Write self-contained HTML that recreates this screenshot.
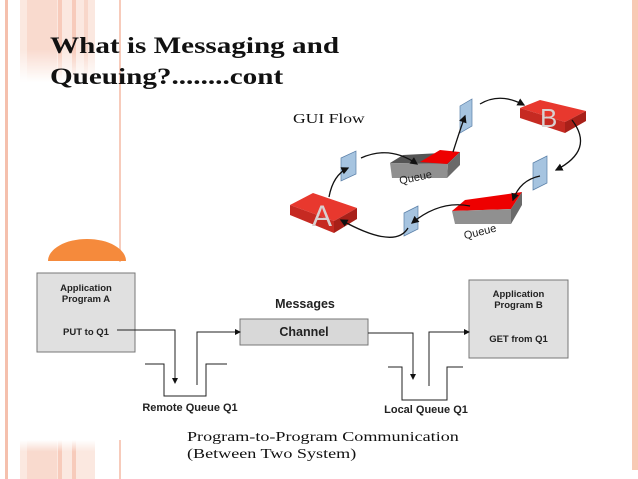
<!DOCTYPE html>
<html><head><meta charset="utf-8"><style>
body{margin:0;width:638px;height:479px;overflow:hidden;background:#fff;position:relative;font-family:"Liberation Sans",sans-serif}
.a{position:absolute}
.t{position:absolute;font-family:"Liberation Serif",serif;font-weight:bold;font-size:23.5px;left:50px;line-height:31px;top:31px;color:#111;transform:scaleX(1.24);transform-origin:0 0;white-space:nowrap}
.s{position:absolute;font-family:"Liberation Serif",serif;font-size:13.5px;color:#111;transform-origin:0 0;white-space:nowrap}
.b{position:absolute;font-weight:bold;font-size:9.5px;color:#222;text-align:center;white-space:nowrap}
</style></head><body>
<svg class="a" style="left:0;top:0" width="638" height="479">
<defs>
<linearGradient id="gt" x1="0" y1="0" x2="0" y2="1"><stop offset="0" stop-color="#fff" stop-opacity="0"/><stop offset="0.6" stop-color="#fff" stop-opacity="0"/><stop offset="1" stop-color="#fff" stop-opacity="1"/></linearGradient>
<linearGradient id="gb" x1="0" y1="0" x2="0" y2="1"><stop offset="0" stop-color="#fff" stop-opacity="1"/><stop offset="0.3" stop-color="#fff" stop-opacity="0"/></linearGradient>
<marker id="ar" markerWidth="6" markerHeight="6" refX="5" refY="3" orient="auto"><path d="M0,0 L6,3 L0,6z" fill="#111"/></marker>
</defs>
<g fill="#f7cbbb">
<rect x="5" y="0" width="3" height="479" fill="#f5c0ad"/>
<rect x="20" y="0" width="75" height="82" opacity="0.45"/>
<rect x="27" y="0" width="30" height="82" opacity="0.5"/>
<rect x="58" y="0" width="4" height="82"/>
<rect x="72" y="0" width="4" height="82"/>
<rect x="84" y="0" width="4" height="82" opacity="0.6"/>
<rect x="119" y="0" width="2" height="262"/>
<rect x="20" y="440" width="75" height="39" opacity="0.45"/>
<rect x="27" y="440" width="30" height="39" opacity="0.5"/>
<rect x="58" y="440" width="4" height="39"/>
<rect x="72" y="440" width="4" height="39"/>
<rect x="119" y="440" width="2" height="39"/>
<rect x="632" y="0" width="6" height="470" fill="#f8c9b4"/>
</g>
<rect x="15" y="0" width="100" height="82" fill="url(#gt)"/>
<rect x="15" y="440" width="100" height="39" fill="url(#gb)"/>
<path d="M48,261 A39,22 0 0 1 126,261 Z" fill="#f58a3c"/>
<g stroke="#5a7fa8" stroke-width="0.7" fill="#a6c4e0">
<polygon points="341,158 356,151 356,174 341,181"/>
<polygon points="460,106 472,99 472,126 460,133"/>
<polygon points="533,163 547,156 547,183 533,190"/>
<polygon points="404,213 418,206 418,229 404,236"/>
</g>
<polygon points="290,205 313,193 357,208 334,221" fill="#e8382e"/>
<polygon points="290,205 334,221 334,233 290,215" fill="#c62a22"/>
<polygon points="334,221 357,208 357,219 334,233" fill="#a82019"/>
<text x="312" y="226" font-family="Liberation Sans" font-size="30" fill="#d8d0d0">A</text>
<polygon points="520,108 540,100 586,111 565,122" fill="#e8382e"/>
<polygon points="520,108 565,122 565,133 520,118" fill="#c62a22"/>
<polygon points="565,122 586,111 586,121 565,133" fill="#a82019"/>
<text x="540" y="127" font-family="Liberation Sans" font-size="26" fill="#d8d0d0">B</text>
<polygon points="390,163 403,155 460,152 448,164" fill="#555"/>
<polygon points="420,162 440,150 460,152 447,164" fill="#e00"/>
<polygon points="390,163 448,164 447,178 392,178" fill="#909090"/>
<polygon points="448,164 460,152 460,165 447,178" fill="#6a6a6a"/>
<text x="398" y="180" font-size="11" fill="#222" transform="rotate(-12 420 172)">Queue</text>
<polygon points="452,211 465,200 522,192 511,209" fill="#e00"/>
<polygon points="452,211 511,209 511,224 455,224" fill="#909090"/>
<polygon points="511,209 522,192 522,205 511,224" fill="#6a6a6a"/>
<text x="462" y="234" font-size="11" fill="#222" transform="rotate(-14 485 225)">Queue</text>
<g fill="none" stroke="#111" stroke-width="1.3" marker-end="url(#ar)">
<path d="M329,197 Q333,175 348,168"/>
<path d="M361,158 Q390,145 417,164"/>
<path d="M453,152 Q460,130 465,116"/>
<path d="M480,104 Q500,92 524,105"/>
<path d="M572,120 Q595,150 556,170"/>
<path d="M540,176 Q520,180 513,200"/>
<path d="M470,206 Q440,200 412,223"/>
<path d="M408,228 Q395,250 341,220"/>
</g>
<rect x="37" y="273" width="98" height="79" fill="#e0e0e0" stroke="#777"/>
<rect x="469" y="280" width="99" height="78" fill="#e0e0e0" stroke="#777"/>
<rect x="240" y="319" width="128" height="26" fill="#d8d8d8" stroke="#777"/>
<g fill="none" stroke="#222" stroke-width="1">
<path d="M117,330 H175 V383" marker-end="url(#ar)"/>
<path d="M197,385 V332 H240" marker-end="url(#ar)"/>
<path d="M145,364 H164 V396 H206 V364 H227"/>
<path d="M368,333 H413 V379" marker-end="url(#ar)"/>
<path d="M429,386 V332 H469" marker-end="url(#ar)"/>
<path d="M388,367 H402 V400 H447 V367 H463"/>
</g>
</svg>
<div class="t">What is Messaging and<br>Queuing?........cont</div>
<div class="s" style="left:293px;top:111px;transform:scaleX(1.3)">GUI Flow</div>
<div class="b" style="left:37px;top:283px;width:98px;line-height:11px">Application<br>Program A</div>
<div class="b" style="left:37px;top:327px;width:98px">PUT to Q1</div>
<div class="b" style="left:469px;top:289px;width:99px;line-height:11px">Application<br>Program B</div>
<div class="b" style="left:469px;top:334px;width:99px">GET from Q1</div>
<div class="b" style="left:240px;top:325px;width:128px;font-size:12.5px">Channel</div>
<div class="b" style="left:250px;top:297px;width:110px;font-size:12.5px">Messages</div>
<div class="b" style="left:130px;top:402px;width:120px;font-size:11px">Remote Queue Q1</div>
<div class="b" style="left:366px;top:404px;width:120px;font-size:11px">Local Queue Q1</div>
<div class="s" style="left:187px;top:428px;line-height:17px;transform:scaleX(1.34)">Program-to-Program Communication<br>(Between Two System)</div>
</body></html>
